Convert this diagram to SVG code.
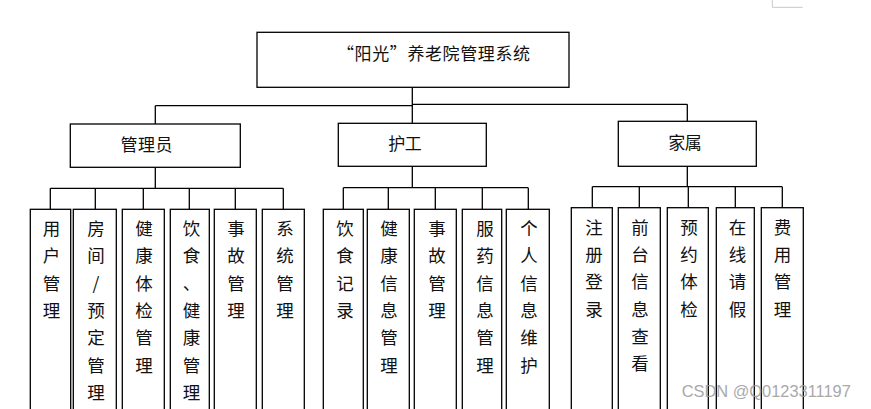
<svg xmlns="http://www.w3.org/2000/svg" width="871" height="409" viewBox="0 0 871 409">
<style>
.box{fill:#fff;stroke:#000;stroke-width:1.3}
.ln{fill:none;stroke:#000;stroke-width:1.3}
.t{font-family:"Noto Sans CJK SC","Noto Sans",sans-serif;fill:#111;font-size:17px}
.v{font-family:"Noto Sans CJK SC","Noto Sans",sans-serif;fill:#111;font-size:17.5px;text-anchor:middle}
.wm{font-family:"Liberation Sans",Arial,sans-serif;font-size:16.4px;fill:#9a9a9a;opacity:0.85}
</style>
<rect width="871" height="409" fill="#fff"/>
<path d="M772.3 0V7.3H802.7" fill="none" stroke="#c8c8c8" stroke-width="1"/>
<g id="connectors">
<path class="ln" d="M412.3 87.3V123.3M155.3 105.7H412.3M412.3 104.3H687.3M155.3 105.7V124M687.3 104.3V121.3"/>
<path class="ln" d="M155.3 167V188.3M50.3 188.3H283.3M50.3 188.3V209.3M95.3 188.3V209.3M143.3 188.3V209.3M189.3 188.3V209.3M235.3 188.3V209.3M283.3 188.3V209.3"/>
<path class="ln" d="M412.3 166.3V187.7M343.3 187.7H528.3M343.3 187.7V209.3M388.3 187.7V209.3M435.3 187.7V209.3M482.3 187.7V209.3M528.3 187.7V209.3"/>
<path class="ln" d="M687.3 166.3V186.7M592.3 186.7H782.3M592.3 186.7V207.7M639.3 186.7V207.7M688.3 186.7V207.7M735.3 186.7V207.7M782.3 186.7V207.7"/>
</g>
<g id="root">
<rect class="box" x="257" y="32.3" width="312" height="55"/>
<text class="t" x="337" y="60" font-size="17.5" textLength="193" lengthAdjust="spacing">“阳光”养老院管理系统</text>
</g>
<g id="admin">
<rect class="box" x="70.3" y="124" width="170" height="43.3"/>
<text class="t" x="120.5" y="151" textLength="52" lengthAdjust="spacing">管理员</text>
</g>
<g id="nurse">
<rect class="box" x="338.3" y="123.3" width="148" height="43"/>
<text class="t" x="388.3" y="149.5" textLength="33.4" lengthAdjust="spacing">护工</text>
</g>
<g id="family">
<rect class="box" x="618.3" y="121.3" width="138" height="45"/>
<text class="t" x="668.3" y="148.5" textLength="33.4" lengthAdjust="spacing">家属</text>
</g>
<g id="a1"><rect class="box" x="30.3" y="209.3" width="40.4" height="220"/>
<text class="v" y="235"><tspan x="51.5">用</tspan><tspan x="51.5" dy="27.3">户</tspan><tspan x="51.5" dy="27.3">管</tspan><tspan x="51.5" dy="27.3">理</tspan></text></g>
<g id="a2"><rect class="box" x="73.3" y="209.3" width="43" height="220"/>
<text class="v" y="235"><tspan x="96">房</tspan><tspan x="96" dy="27.3">间</tspan><tspan x="96" dy="27.3">/</tspan><tspan x="96" dy="27.3">预</tspan><tspan x="96" dy="27.3">定</tspan><tspan x="96" dy="27.3">管</tspan><tspan x="96" dy="27.3">理</tspan></text></g>
<g id="a3"><rect class="box" x="122.3" y="209.3" width="42" height="220"/>
<text class="v" y="235"><tspan x="144">健</tspan><tspan x="144" dy="27.3">康</tspan><tspan x="144" dy="27.3">体</tspan><tspan x="144" dy="27.3">检</tspan><tspan x="144" dy="27.3">管</tspan><tspan x="144" dy="27.3">理</tspan></text></g>
<g id="a4"><rect class="box" x="170.3" y="209.3" width="39" height="220"/>
<text class="v" y="235"><tspan x="191.5">饮</tspan><tspan x="191.5" dy="27.3">食</tspan><tspan x="191.5" dy="27.3">、</tspan><tspan x="191.5" dy="27.3">健</tspan><tspan x="191.5" dy="27.3">康</tspan><tspan x="191.5" dy="27.3">管</tspan><tspan x="191.5" dy="27.3">理</tspan></text></g>
<g id="a5"><rect class="box" x="214.3" y="209.3" width="42" height="220"/>
<text class="v" y="235"><tspan x="236">事</tspan><tspan x="236" dy="27.3">故</tspan><tspan x="236" dy="27.3">管</tspan><tspan x="236" dy="27.3">理</tspan></text></g>
<g id="a6"><rect class="box" x="262.3" y="209.3" width="42" height="220"/>
<text class="v" y="235"><tspan x="285">系</tspan><tspan x="285" dy="27.3">统</tspan><tspan x="285" dy="27.3">管</tspan><tspan x="285" dy="27.3">理</tspan></text></g>
<g id="n1"><rect class="box" x="323.3" y="209.3" width="40" height="220"/>
<text class="v" y="235"><tspan x="345">饮</tspan><tspan x="345" dy="27.3">食</tspan><tspan x="345" dy="27.3">记</tspan><tspan x="345" dy="27.3">录</tspan></text></g>
<g id="n2"><rect class="box" x="367.3" y="209.3" width="42" height="220"/>
<text class="v" y="235"><tspan x="389">健</tspan><tspan x="389" dy="27.3">康</tspan><tspan x="389" dy="27.3">信</tspan><tspan x="389" dy="27.3">息</tspan><tspan x="389" dy="27.3">管</tspan><tspan x="389" dy="27.3">理</tspan></text></g>
<g id="n3"><rect class="box" x="414.3" y="209.3" width="42" height="220"/>
<text class="v" y="235"><tspan x="437">事</tspan><tspan x="437" dy="27.3">故</tspan><tspan x="437" dy="27.3">管</tspan><tspan x="437" dy="27.3">理</tspan></text></g>
<g id="n4"><rect class="box" x="462.3" y="209.3" width="39.4" height="220"/>
<text class="v" y="235"><tspan x="485">服</tspan><tspan x="485" dy="27.3">药</tspan><tspan x="485" dy="27.3">信</tspan><tspan x="485" dy="27.3">息</tspan><tspan x="485" dy="27.3">管</tspan><tspan x="485" dy="27.3">理</tspan></text></g>
<g id="n5"><rect class="box" x="506.3" y="209.3" width="43" height="220"/>
<text class="v" y="235"><tspan x="529">个</tspan><tspan x="529" dy="27.3">人</tspan><tspan x="529" dy="27.3">信</tspan><tspan x="529" dy="27.3">息</tspan><tspan x="529" dy="27.3">维</tspan><tspan x="529" dy="27.3">护</tspan></text></g>
<g id="f1"><rect class="box" x="571.3" y="207.7" width="41" height="220"/>
<text class="v" y="234"><tspan x="594">注</tspan><tspan x="594" dy="27.2">册</tspan><tspan x="594" dy="27.2">登</tspan><tspan x="594" dy="27.2">录</tspan></text></g>
<g id="f2"><rect class="box" x="618.3" y="207.7" width="42" height="220"/>
<text class="v" y="234"><tspan x="640">前</tspan><tspan x="640" dy="27.2">台</tspan><tspan x="640" dy="27.2">信</tspan><tspan x="640" dy="27.2">息</tspan><tspan x="640" dy="27.2">查</tspan><tspan x="640" dy="27.2">看</tspan></text></g>
<g id="f3"><rect class="box" x="667.3" y="207.7" width="41" height="220"/>
<text class="v" y="234"><tspan x="689">预</tspan><tspan x="689" dy="27.2">约</tspan><tspan x="689" dy="27.2">体</tspan><tspan x="689" dy="27.2">检</tspan></text></g>
<g id="f4"><rect class="box" x="716.3" y="207.7" width="38" height="220"/>
<text class="v" y="234"><tspan x="737.5">在</tspan><tspan x="737.5" dy="27.2">线</tspan><tspan x="737.5" dy="27.2">请</tspan><tspan x="737.5" dy="27.2">假</tspan></text></g>
<g id="f5"><rect class="box" x="761.3" y="207.7" width="42" height="220"/>
<text class="v" y="234"><tspan x="782.5">费</tspan><tspan x="782.5" dy="27.2">用</tspan><tspan x="782.5" dy="27.2">管</tspan><tspan x="782.5" dy="27.2">理</tspan></text></g>
<text class="wm" x="681.7" y="397.3">CSDN @Q0123311197</text>
</svg>
